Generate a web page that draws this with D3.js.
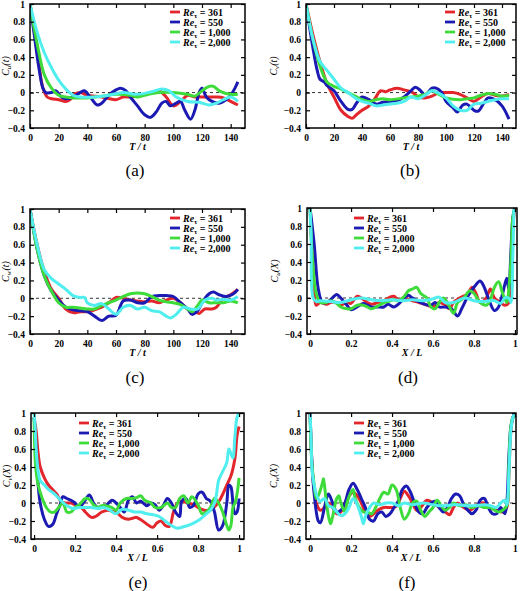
<!DOCTYPE html>
<meta charset="utf-8">
<head>
<style>
body { margin: 0; background: #fff; }
svg { display: block; font-family: "Liberation Serif", "Times New Roman", serif; }
</style>
</head>
<body>
<div class="chart"></div>
<script src="https://d3js.org/d3.v7.min.js"></script>
<script>
// Re_tau cases, drawn in this order (cyan ends on top)
const reTau = ['361', '550', '1,000', '2,000'];
const colors = ['#e3262c', '#1b1bb3', '#3ddc3a', '#50eeee'];

const tTicks = [0, 20, 40, 60, 80, 100, 120, 140];
const xlTicks = [0, 0.2, 0.4, 0.6, 0.8, 1];
const yTicks = [-0.4, -0.2, 0, 0.2, 0.4, 0.6, 0.8, 1];

// (a) C_u(t)
const a361 = [[0,1],[3,0.7],[6,0.35],[9,0.05],[12,-0.05],[15,-0.07],[20,-0.08],[25,-0.1],[28,-0.08],[31,-0.02],[35,0],[40,-0.03],[50,-0.05],[60,-0.08],[65,-0.05],[70,-0.05],[80,-0.02],[85,0],[90,0.02],[95,-0.05],[100,-0.15],[105,-0.1],[110,-0.03],[115,-0.05],[120,-0.05],[125,-0.05],[130,-0.05],[135,-0.06],[140,-0.1],[145,-0.14]];
const a550 = [[0,1],[3,0.65],[6,0.3],[9,0.05],[11,0],[15,0],[18,0.02],[22,-0.05],[25,-0.07],[30,-0.05],[35,0],[38,0.02],[42,-0.05],[47,-0.14],[50,-0.12],[55,-0.03],[60,0.03],[63,0.05],[67,0.02],[70,-0.05],[75,-0.15],[80,-0.25],[84,-0.28],[88,-0.22],[92,-0.12],[95,-0.1],[98,-0.15],[102,-0.12],[105,-0.1],[108,-0.2],[112,-0.3],[115,-0.2],[118,0],[120,0.05],[123,-0.05],[127,-0.1],[132,-0.12],[137,-0.08],[140,-0.03],[143,0.05],[145,0.12]];
const a1000 = [[0,1],[5,0.55],[10,0.2],[15,0.05],[20,-0.03],[25,-0.05],[30,-0.06],[40,-0.06],[50,-0.04],[60,-0.02],[70,-0.03],[75,-0.05],[80,-0.03],[90,0],[100,0],[110,-0.02],[115,-0.04],[120,0.02],[125,0.07],[128,0.07],[132,0.02],[140,-0.02],[145,-0.02]];
const a2000 = [[0,1],[5,0.68],[10,0.45],[15,0.28],[20,0.14],[25,0.04],[30,-0.03],[35,-0.05],[45,-0.05],[55,-0.03],[65,0],[75,-0.02],[85,0.01],[92,0.04],[97,0.02],[102,-0.05],[110,-0.1],[118,-0.11],[125,-0.14],[130,-0.12],[135,-0.08],[140,-0.05],[145,-0.1]];

// (b) C_v(t)
const b361 = [[0,1],[5,0.65],[10,0.35],[15,0.1],[20,-0.05],[25,-0.2],[30,-0.27],[33,-0.29],[36,-0.25],[40,-0.2],[45,-0.15],[50,-0.05],[53,0.02],[57,0.01],[60,0.03],[65,0.05],[70,0.03],[75,0.01],[78,-0.02],[80,-0.05],[85,-0.06],[90,-0.04],[95,0],[100,0],[105,0],[110,-0.02],[115,-0.06],[120,-0.1],[125,-0.05],[130,-0.01],[135,-0.03],[140,-0.04],[145,-0.02]];
const b550 = [[0,1],[5,0.5],[8,0.25],[10,0.15],[13,0.12],[15,0.08],[20,0.02],[25,-0.1],[30,-0.19],[33,-0.19],[36,-0.12],[40,-0.05],[45,-0.08],[50,-0.13],[55,-0.11],[60,-0.1],[65,-0.09],[70,-0.05],[75,0.02],[78,0.06],[82,0.02],[85,-0.03],[90,0.05],[93,0.05],[97,0],[100,-0.1],[105,-0.17],[108,-0.22],[112,-0.14],[115,-0.13],[120,-0.2],[123,-0.21],[127,-0.12],[130,-0.06],[135,-0.08],[140,-0.15],[145,-0.3]];
const b1000 = [[0,1],[5,0.6],[10,0.3],[15,0.12],[20,0.07],[25,0.04],[30,0],[35,-0.04],[40,-0.08],[45,-0.1],[50,-0.08],[55,-0.07],[60,-0.08],[70,-0.06],[80,-0.04],[85,-0.02],[90,0.02],[95,-0.02],[100,-0.06],[110,-0.08],[115,-0.07],[120,-0.06],[125,-0.03],[130,-0.01],[135,-0.02],[140,-0.04],[145,-0.03]];
const b2000 = [[0,1],[5,0.6],[10,0.35],[15,0.25],[20,0.15],[25,0.05],[30,0],[35,-0.06],[40,-0.1],[45,-0.12],[50,-0.15],[55,-0.14],[60,-0.13],[65,-0.12],[70,-0.1],[75,-0.05],[80,-0.07],[85,-0.03],[90,0.02],[95,-0.01],[100,-0.06],[105,-0.15],[110,-0.2],[115,-0.2],[120,-0.13],[125,-0.12],[130,-0.1],[135,-0.08],[140,-0.07],[145,-0.07]];

// (c) C_w(t)
const c361 = [[0,1],[5,0.6],[10,0.3],[15,0.1],[20,0],[25,-0.12],[30,-0.16],[35,-0.15],[40,-0.15],[45,-0.13],[50,-0.1],[55,-0.05],[60,0.01],[65,0],[70,-0.02],[75,-0.03],[80,-0.04],[85,-0.03],[90,-0.05],[95,-0.02],[100,0],[105,-0.05],[110,-0.12],[115,-0.15],[118,-0.17],[122,-0.12],[127,-0.12],[130,-0.1],[135,0],[140,0.04],[145,0.1]];
const c550 = [[0,1],[5,0.55],[10,0.25],[15,0.08],[20,-0.02],[25,-0.1],[30,-0.13],[35,-0.14],[40,-0.15],[45,-0.2],[50,-0.25],[55,-0.2],[60,-0.19],[65,-0.03],[70,-0.02],[75,-0.05],[80,-0.05],[85,0.02],[90,0.03],[95,0.03],[100,0.02],[105,-0.05],[110,-0.12],[113,-0.18],[117,-0.14],[120,-0.05],[125,0.05],[128,0.07],[132,0.04],[137,0.02],[142,0.05],[145,0.1]];
const c1000 = [[0,1],[5,0.55],[10,0.25],[15,0.08],[20,-0.05],[25,-0.1],[30,-0.1],[35,-0.11],[40,-0.12],[45,-0.12],[50,-0.08],[55,-0.05],[60,-0.02],[65,0.02],[70,0.05],[75,0.06],[80,0.05],[85,0.02],[90,-0.02],[95,-0.04],[100,-0.05],[105,-0.07],[110,-0.12],[113,-0.15],[117,-0.08],[120,-0.02],[125,-0.05],[130,-0.05],[135,-0.05],[140,-0.03],[145,-0.05]];
const c2000 = [[0,1],[5,0.6],[10,0.32],[15,0.22],[20,0.16],[25,0.1],[30,0.03],[35,0.01],[38,0.01],[40,-0.05],[45,-0.08],[50,-0.06],[55,-0.12],[60,-0.18],[65,-0.1],[70,-0.08],[75,-0.12],[80,-0.1],[85,-0.14],[90,-0.15],[95,-0.2],[98,-0.22],[102,-0.18],[107,-0.1],[112,-0.12],[117,-0.12],[122,-0.02],[127,0],[130,-0.02],[135,-0.01],[140,-0.02],[145,0.02]];

// (d) C_u(X)
const d361 = [[0,1],[0.01,0.5],[0.02,0.1],[0.03,-0.08],[0.05,-0.05],[0.08,-0.07],[0.1,-0.05],[0.13,-0.05],[0.15,-0.08],[0.18,-0.05],[0.2,-0.06],[0.23,0.02],[0.25,0],[0.28,-0.05],[0.3,-0.07],[0.33,-0.05],[0.36,-0.03],[0.39,0.01],[0.41,0.02],[0.43,-0.02],[0.46,0],[0.5,-0.03],[0.53,-0.05],[0.56,-0.07],[0.6,-0.1],[0.63,-0.05],[0.66,-0.08],[0.68,-0.12],[0.7,-0.05],[0.73,0],[0.77,0.05],[0.79,0.12],[0.81,0.05],[0.83,-0.05],[0.86,0],[0.88,0.1],[0.9,0],[0.93,-0.05],[0.95,-0.08],[0.97,-0.05],[0.98,0.3],[0.99,0.8],[1,1]];
const d550 = [[0,1],[0.02,0.6],[0.04,0.1],[0.06,-0.05],[0.08,-0.05],[0.1,-0.02],[0.13,0.04],[0.15,0],[0.18,-0.08],[0.2,-0.13],[0.23,-0.1],[0.26,-0.06],[0.28,-0.08],[0.3,-0.1],[0.33,-0.1],[0.36,-0.1],[0.38,-0.07],[0.41,-0.1],[0.43,-0.07],[0.46,0],[0.48,0.03],[0.5,0],[0.53,-0.04],[0.56,-0.07],[0.59,-0.08],[0.61,-0.05],[0.63,-0.1],[0.66,-0.1],[0.69,-0.12],[0.72,-0.2],[0.74,-0.12],[0.77,0.02],[0.8,0.12],[0.83,0.19],[0.85,0.12],[0.87,0],[0.9,-0.14],[0.92,-0.1],[0.94,0.05],[0.96,0.22],[0.97,0.1],[0.98,0.5],[0.99,0.9],[1,1]];
const d1000 = [[0,1],[0.01,0.5],[0.03,0.05],[0.05,-0.05],[0.08,-0.05],[0.1,-0.03],[0.13,-0.06],[0.15,-0.1],[0.18,-0.12],[0.2,-0.12],[0.23,-0.08],[0.26,-0.08],[0.28,-0.1],[0.3,-0.12],[0.33,-0.09],[0.36,-0.05],[0.38,-0.04],[0.41,-0.02],[0.43,-0.03],[0.46,0.02],[0.48,0.08],[0.5,0.1],[0.52,0.12],[0.54,0.05],[0.57,0],[0.59,-0.1],[0.61,-0.12],[0.63,-0.05],[0.65,0],[0.67,-0.05],[0.7,-0.17],[0.72,-0.05],[0.75,0],[0.78,0.08],[0.8,0.05],[0.83,-0.05],[0.86,-0.08],[0.88,-0.02],[0.9,0.12],[0.92,0.18],[0.94,0.05],[0.96,-0.05],[0.97,0.1],[0.98,0.4],[0.99,0.9],[1,1]];
const d2000 = [[0,1],[0.005,0.7],[0.015,0],[0.03,-0.04],[0.05,-0.03],[0.1,-0.04],[0.15,-0.05],[0.2,-0.02],[0.25,0],[0.3,-0.02],[0.35,-0.03],[0.4,-0.02],[0.45,-0.03],[0.5,-0.02],[0.55,-0.03],[0.6,-0.01],[0.63,0.01],[0.66,-0.05],[0.7,-0.05],[0.73,-0.02],[0.76,0],[0.8,-0.03],[0.85,-0.04],[0.9,-0.03],[0.93,-0.06],[0.95,0],[0.97,0],[0.98,-0.05],[0.99,0.5],[0.995,1]];

// (e) C_v(X)
const e361 = [[0,0.95],[0.01,0.8],[0.02,0.55],[0.03,0.4],[0.05,0.28],[0.07,0.2],[0.09,0.15],[0.11,0.1],[0.13,0.02],[0.15,0],[0.18,0],[0.2,-0.02],[0.23,-0.05],[0.25,-0.1],[0.28,-0.16],[0.3,-0.15],[0.33,-0.1],[0.36,-0.08],[0.39,-0.1],[0.41,-0.12],[0.43,-0.16],[0.46,-0.18],[0.48,-0.17],[0.5,-0.16],[0.53,-0.2],[0.56,-0.25],[0.58,-0.27],[0.6,-0.22],[0.62,-0.2],[0.64,-0.25],[0.66,-0.26],[0.68,-0.1],[0.7,0],[0.72,0.02],[0.75,0],[0.78,-0.02],[0.8,-0.05],[0.83,-0.08],[0.86,-0.08],[0.89,-0.02],[0.91,0.05],[0.94,0.2],[0.96,0.3],[0.98,0.5],[0.99,0.75],[1,0.85]];
const e550 = [[0,0.95],[0.01,0.6],[0.02,0.2],[0.03,0],[0.05,-0.18],[0.07,-0.26],[0.09,-0.24],[0.11,-0.12],[0.13,0],[0.14,0.07],[0.16,0.05],[0.18,0.03],[0.2,0],[0.22,-0.05],[0.24,0],[0.27,0.09],[0.29,0],[0.31,-0.05],[0.33,-0.05],[0.35,-0.03],[0.38,0.03],[0.4,0],[0.42,-0.05],[0.44,-0.1],[0.46,0.03],[0.48,0.07],[0.5,0],[0.52,0.02],[0.55,-0.03],[0.57,0],[0.59,-0.02],[0.61,-0.08],[0.63,-0.03],[0.65,0.05],[0.67,0],[0.69,-0.1],[0.71,-0.15],[0.72,0.02],[0.74,0.05],[0.76,-0.05],[0.78,-0.02],[0.8,0.1],[0.82,0.12],[0.84,0.05],[0.86,0.02],[0.88,-0.1],[0.9,-0.3],[0.92,-0.25],[0.94,0],[0.95,0.2],[0.96,0.18],[0.97,0],[0.98,-0.12],[0.99,-0.1],[1,0.05]];
const e1000 = [[0,0.95],[0.005,0.5],[0.01,0.35],[0.02,0.2],[0.04,0.05],[0.06,-0.05],[0.08,-0.1],[0.1,-0.1],[0.12,-0.05],[0.14,0],[0.16,-0.1],[0.18,-0.1],[0.2,-0.05],[0.22,-0.02],[0.25,0.05],[0.27,0.04],[0.29,-0.02],[0.31,-0.05],[0.33,-0.03],[0.35,-0.03],[0.38,-0.05],[0.4,-0.08],[0.42,0],[0.45,0.05],[0.48,0.05],[0.5,0.06],[0.52,0.08],[0.54,0.03],[0.57,0],[0.59,-0.05],[0.62,-0.05],[0.65,0],[0.67,-0.05],[0.69,-0.05],[0.71,0.05],[0.73,0.08],[0.75,0],[0.77,0.07],[0.8,-0.02],[0.82,-0.12],[0.84,-0.1],[0.86,-0.05],[0.88,0.05],[0.9,0],[0.92,-0.1],[0.94,-0.25],[0.95,-0.3],[0.96,-0.25],[0.97,-0.05],[0.98,0],[0.99,0.1],[1,0.28]];
const e2000 = [[0,1],[0.005,0.85],[0.01,0.6],[0.02,0.35],[0.03,0.25],[0.05,0.2],[0.07,0.15],[0.1,0.1],[0.13,0.03],[0.16,-0.03],[0.19,-0.06],[0.22,-0.05],[0.25,-0.05],[0.28,-0.05],[0.31,-0.06],[0.34,-0.05],[0.37,-0.08],[0.4,-0.12],[0.43,-0.07],[0.46,-0.08],[0.49,-0.1],[0.52,-0.1],[0.55,-0.12],[0.58,-0.13],[0.61,-0.15],[0.64,-0.2],[0.67,-0.25],[0.7,-0.28],[0.72,-0.27],[0.75,-0.25],[0.78,-0.22],[0.81,-0.18],[0.84,-0.12],[0.86,-0.08],[0.88,0],[0.89,0.1],[0.9,0.25],[0.92,0.35],[0.94,0.45],[0.95,0.6],[0.96,0.55],[0.97,0.5],[0.98,0.75],[0.99,0.95],[1,1]];

// (f) C_w(X)
const f361 = [[0,1],[0.01,0.4],[0.02,0.15],[0.03,0],[0.05,-0.08],[0.07,-0.05],[0.09,0],[0.11,-0.05],[0.13,-0.12],[0.15,-0.1],[0.17,0],[0.19,0.08],[0.21,0.12],[0.23,0.08],[0.25,0],[0.27,-0.1],[0.29,-0.15],[0.31,-0.12],[0.33,-0.08],[0.36,-0.05],[0.39,-0.05],[0.42,-0.04],[0.44,0.05],[0.46,0.13],[0.48,0.08],[0.5,0],[0.52,-0.08],[0.54,-0.05],[0.57,0.03],[0.6,0],[0.63,-0.05],[0.66,-0.1],[0.68,-0.13],[0.7,-0.05],[0.72,0],[0.75,-0.05],[0.78,-0.08],[0.8,-0.05],[0.83,0],[0.85,0],[0.88,-0.05],[0.91,-0.08],[0.94,-0.1],[0.96,-0.05],[0.97,0.3],[0.98,0.8],[0.99,0.95],[1,1]];
const f550 = [[0,1],[0.01,0.4],[0.02,0.1],[0.04,-0.2],[0.05,-0.22],[0.07,-0.05],[0.08,0.05],[0.09,0.1],[0.11,0],[0.13,-0.1],[0.15,-0.08],[0.17,0],[0.19,0.15],[0.21,0.22],[0.23,0.15],[0.25,0.05],[0.27,-0.05],[0.29,-0.18],[0.31,-0.2],[0.33,-0.12],[0.35,-0.1],[0.37,-0.15],[0.39,-0.12],[0.41,-0.05],[0.43,0.02],[0.45,0.15],[0.47,0.19],[0.49,0.12],[0.51,0],[0.53,-0.1],[0.55,-0.12],[0.57,-0.05],[0.59,0],[0.61,0.02],[0.63,-0.05],[0.65,-0.1],[0.67,-0.05],[0.69,0.05],[0.71,0.1],[0.73,0.08],[0.75,-0.02],[0.77,-0.08],[0.79,-0.12],[0.81,-0.08],[0.83,0.03],[0.85,0.05],[0.87,-0.05],[0.89,-0.12],[0.91,-0.12],[0.93,-0.05],[0.95,-0.12],[0.96,0],[0.97,0.5],[0.98,0.85],[0.99,0.95],[1,1]];
const f1000 = [[0,0.95],[0.005,0.6],[0.01,0.4],[0.02,0.2],[0.03,0.05],[0.04,0.08],[0.06,0.22],[0.065,0.27],[0.07,0.2],[0.08,0],[0.09,-0.15],[0.1,-0.23],[0.11,-0.15],[0.13,0.05],[0.14,0.08],[0.15,0],[0.17,-0.1],[0.18,0],[0.2,0.12],[0.21,0.15],[0.22,0.05],[0.24,-0.05],[0.26,-0.1],[0.28,-0.1],[0.3,-0.12],[0.32,-0.05],[0.34,0.05],[0.36,0.12],[0.38,0.1],[0.4,0.2],[0.42,0.15],[0.44,-0.05],[0.46,-0.18],[0.48,-0.12],[0.5,0],[0.52,0.02],[0.54,-0.08],[0.56,-0.15],[0.58,-0.1],[0.6,-0.05],[0.62,0.03],[0.64,-0.03],[0.66,-0.08],[0.68,-0.05],[0.7,0],[0.73,-0.03],[0.76,-0.02],[0.79,-0.05],[0.82,-0.03],[0.85,-0.05],[0.88,-0.05],[0.9,-0.08],[0.92,-0.1],[0.94,-0.08],[0.96,-0.03],[0.97,0.4],[0.98,0.85],[0.99,0.95],[1,0.97]];
const f2000 = [[0,1],[0.005,0.7],[0.01,0.35],[0.02,0.2],[0.03,0.1],[0.05,0.02],[0.07,0.05],[0.09,-0.03],[0.11,-0.05],[0.13,-0.1],[0.15,-0.14],[0.17,-0.12],[0.19,-0.05],[0.21,0.05],[0.23,-0.02],[0.25,-0.15],[0.26,-0.23],[0.27,-0.15],[0.29,-0.05],[0.31,0],[0.34,-0.02],[0.37,0],[0.4,0],[0.43,-0.03],[0.46,0],[0.5,-0.02],[0.55,0],[0.6,-0.02],[0.63,-0.03],[0.66,-0.03],[0.7,-0.02],[0.73,-0.02],[0.76,-0.03],[0.8,-0.03],[0.85,-0.02],[0.88,-0.03],[0.91,-0.05],[0.93,0],[0.95,0.03],[0.96,-0.02],[0.97,0.3],[0.98,0.8],[0.99,0.95],[1,1]];

// panel layout (pixel boxes are left, right, top, bottom)
const panels = [
  { tag: '(a)', series: [a361, a550, a1000, a2000], comp: 'u', arg: 't', xDomain: [0, 150], ticks: tTicks, box: [30, 245, 4, 128], leg: [170, 12], tagPos: [135, 176], yTitleDx: -21 },
  { tag: '(b)', series: [b361, b550, b1000, b2000], comp: 'v', arg: 't', xDomain: [0, 150], ticks: tTicks, box: [306, 516, 4, 128], leg: [445, 12], tagPos: [410, 176], yTitleDx: -29 },
  { tag: '(c)', series: [c361, c550, c1000, c2000], comp: 'w', arg: 't', xDomain: [0, 150], ticks: tTicks, box: [30, 245, 209, 334], leg: [170, 218], tagPos: [135, 383], yTitleDx: -21 },
  { tag: '(d)', series: [d361, d550, d1000, d2000], comp: 'u', arg: 'X', xDomain: [-0.015, 1.01], ticks: xlTicks, box: [307, 517, 208, 334], leg: [354, 218], tagPos: [408, 383], yTitleDx: -29 },
  { tag: '(e)', series: [e361, e550, e1000, e2000], comp: 'v', arg: 'X', xDomain: [-0.015, 1.024], ticks: xlTicks, box: [31, 244, 413, 539], leg: [79, 423], tagPos: [138, 588], yTitleDx: -21 },
  { tag: '(f)', series: [f361, f550, f1000, f2000], comp: 'w', arg: 'X', xDomain: [-0.02, 1.005], ticks: xlTicks, box: [306, 516, 413, 539], leg: [354, 423], tagPos: [407, 588], yTitleDx: -29 }
];

const svg = d3.select('.chart')
  .append('svg')
  .attr('width', 520)
  .attr('height', 591);

const fmt = d3.format('~g');

panels.forEach((p, i) => {
  const [left, right, top, bottom] = p.box;
  const x = d3.scaleLinear().domain(p.xDomain).range([left, right]);
  const y = d3.scaleLinear().domain([-0.4, 1]).range([bottom, top]);
  const g = svg.append('g');

  g.append('clipPath')
    .attr('id', `clip${i}`)
    .append('rect')
    .attr('x', left).attr('y', top)
    .attr('width', right - left).attr('height', bottom - top);

  // dashed zero line
  g.append('line')
    .attr('x1', left).attr('x2', right)
    .attr('y1', y(0)).attr('y2', y(0))
    .attr('stroke', '#333')
    .attr('stroke-width', 1)
    .attr('stroke-dasharray', '3,3');

  const line = d3.line()
    .x(d => x(d[0]))
    .y(d => y(d[1]))
    .curve(d3.curveCatmullRom.alpha(0.5));

  g.append('g')
    .attr('clip-path', `url(#clip${i})`)
    .selectAll('path')
    .data(p.series)
    .enter()
    .append('path')
    .attr('d', line)
    .attr('fill', 'none')
    .attr('stroke', (d, k) => colors[k])
    .attr('stroke-width', 3)
    .attr('stroke-linejoin', 'round');

  // axes, ticks point inward on all four sides
  const styleAxis = sel => {
    sel.select('.domain').remove();
    sel.selectAll('line').attr('stroke', '#000').attr('stroke-width', 1.2);
    sel.selectAll('text')
      .attr('font-family', '"Liberation Serif", serif')
      .attr('font-size', 9.5)
      .attr('font-weight', 'bold')
      .attr('fill', '#000');
  };

  g.append('g')
    .attr('transform', `translate(0,${bottom})`)
    .call(d3.axisBottom(x).tickValues(p.ticks).tickFormat(fmt).tickSizeInner(-4).tickSizeOuter(0).tickPadding(6))
    .call(styleAxis);
  g.append('g')
    .attr('transform', `translate(0,${top})`)
    .call(d3.axisTop(x).tickValues(p.ticks).tickFormat('').tickSizeInner(-4).tickSizeOuter(0))
    .call(styleAxis);
  g.append('g')
    .attr('transform', `translate(${left},0)`)
    .call(d3.axisLeft(y).tickValues(yTicks).tickFormat(fmt).tickSizeInner(-4).tickSizeOuter(0).tickPadding(5))
    .call(styleAxis);
  g.append('g')
    .attr('transform', `translate(${right},0)`)
    .call(d3.axisRight(y).tickValues(yTicks).tickFormat('').tickSizeInner(-4).tickSizeOuter(0))
    .call(styleAxis);

  g.append('rect')
    .attr('x', left).attr('y', top)
    .attr('width', right - left).attr('height', bottom - top)
    .attr('fill', 'none')
    .attr('stroke', '#000')
    .attr('stroke-width', 1.5);

  // x title
  const xt = g.append('text')
    .attr('x', (left + right) / 2)
    .attr('y', bottom + 22)
    .attr('text-anchor', 'middle')
    .attr('font-size', 10)
    .attr('font-style', 'italic')
    .attr('font-weight', 'bold');
  xt.text(p.arg === 't' ? 'T / t' : 'X / L');

  // y title C_comp(arg)
  const yt = g.append('text')
    .attr('transform', `translate(${left + p.yTitleDx},${(top + bottom) / 2}) rotate(-90)`)
    .attr('text-anchor', 'middle')
    .attr('font-size', 10)
    .attr('font-style', 'italic');
  yt.append('tspan').text('C');
  yt.append('tspan').attr('font-size', 7).attr('dy', 2).text(p.comp);
  yt.append('tspan').attr('dy', -2).text(`(${p.arg})`);

  // legend
  const leg = g.append('g');
  reTau.forEach((r, k) => {
    const ly = p.leg[1] + k * 10;
    leg.append('line')
      .attr('x1', p.leg[0]).attr('x2', p.leg[0] + 10)
      .attr('y1', ly).attr('y2', ly)
      .attr('stroke', colors[k])
      .attr('stroke-width', 2.8);
    const t = leg.append('text')
      .attr('x', p.leg[0] + 13)
      .attr('y', ly + 3.5)
      .attr('font-size', 10)
      .attr('font-weight', 'bold');
    t.append('tspan').attr('font-style', 'italic').text('Re');
    t.append('tspan').attr('font-size', 7).attr('dy', 2).text('τ');
    t.append('tspan').attr('dy', -2).text(` = ${r}`);
  });

  // panel tag
  g.append('text')
    .attr('x', p.tagPos[0])
    .attr('y', p.tagPos[1])
    .attr('text-anchor', 'middle')
    .attr('font-size', 17)
    .text(p.tag);
});
</script>
</body>
